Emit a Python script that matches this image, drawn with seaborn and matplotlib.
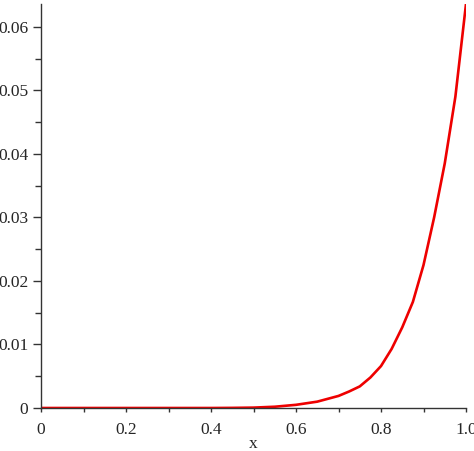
import numpy as np
import pandas as pd
import matplotlib.pyplot as plt
import seaborn as sns
from matplotlib.ticker import MultipleLocator

# values
x_vals = [0.0, 0.1, 0.2, 0.3, 0.4, 0.45, 0.5, 0.55, 0.6, 0.65, 0.7, 0.725,
          0.75, 0.775, 0.8, 0.825, 0.85, 0.875, 0.9, 0.925, 0.95, 0.975, 1.0]
y_vals = [0.0, 0.0, 0.0, 0.0, 0.0, 0.00002, 0.00006, 0.0002, 0.0005, 0.0010,
          0.0019, 0.0026, 0.0034, 0.0048, 0.0066, 0.0093, 0.0127, 0.0167,
          0.0225, 0.0300, 0.0385, 0.0490, 0.0636]

df = pd.DataFrame({'x': x_vals, 'y': y_vals})

sns.set_style('white')
plt.rcParams['font.family'] = ['Liberation Serif', 'DejaVu Serif']

fig = plt.figure(figsize=(4.74, 4.51), dpi=100)
ax = fig.add_axes([41/474, 43/451, 425/474, 404/451])

sns.lineplot(data=df, x='x', y='y', color='#ee0000', linewidth=1.9, ax=ax)

ax.set_xlim(0, 1.0)
ax.set_ylim(0, 0.0636)
ax.xaxis.set_minor_locator(MultipleLocator(0.1))
ax.yaxis.set_minor_locator(MultipleLocator(0.005))
ax.set_xticks([0, 0.2, 0.4, 0.6, 0.8, 1.0])
ax.set_xticklabels(['0', '0.2', '0.4', '0.6', '0.8', '1.0'])
ax.set_yticks([0, 0.01, 0.02, 0.03, 0.04, 0.05, 0.06])
ax.set_yticklabels(['0', '0.01', '0.02', '0.03', '0.04', '0.05', '0.06'])

for side in ['top', 'right']:
    ax.spines[side].set_visible(False)
for side in ['left', 'bottom']:
    ax.spines[side].set_color('#333333')
    ax.spines[side].set_linewidth(1.0)

ax.tick_params(axis='y', which='major', direction='out', length=6, width=1,
               color='#333333', labelsize=12.5, pad=3, left=True)
ax.tick_params(axis='y', which='minor', direction='out', length=4, width=1,
               color='#333333', left=True)
ax.tick_params(axis='x', which='major', direction='out', length=3, width=1,
               color='#333333', labelsize=12.5, pad=7, bottom=True)
ax.tick_params(axis='x', which='minor', direction='out', length=3, width=1,
               color='#333333', bottom=True)

# axis title sits half cut off at the bottom edge, as in the reference
ax.set_xlabel('x', fontsize=12.5, labelpad=-1)
ax.set_ylabel('')

fig.savefig('out.png', dpi=100)
